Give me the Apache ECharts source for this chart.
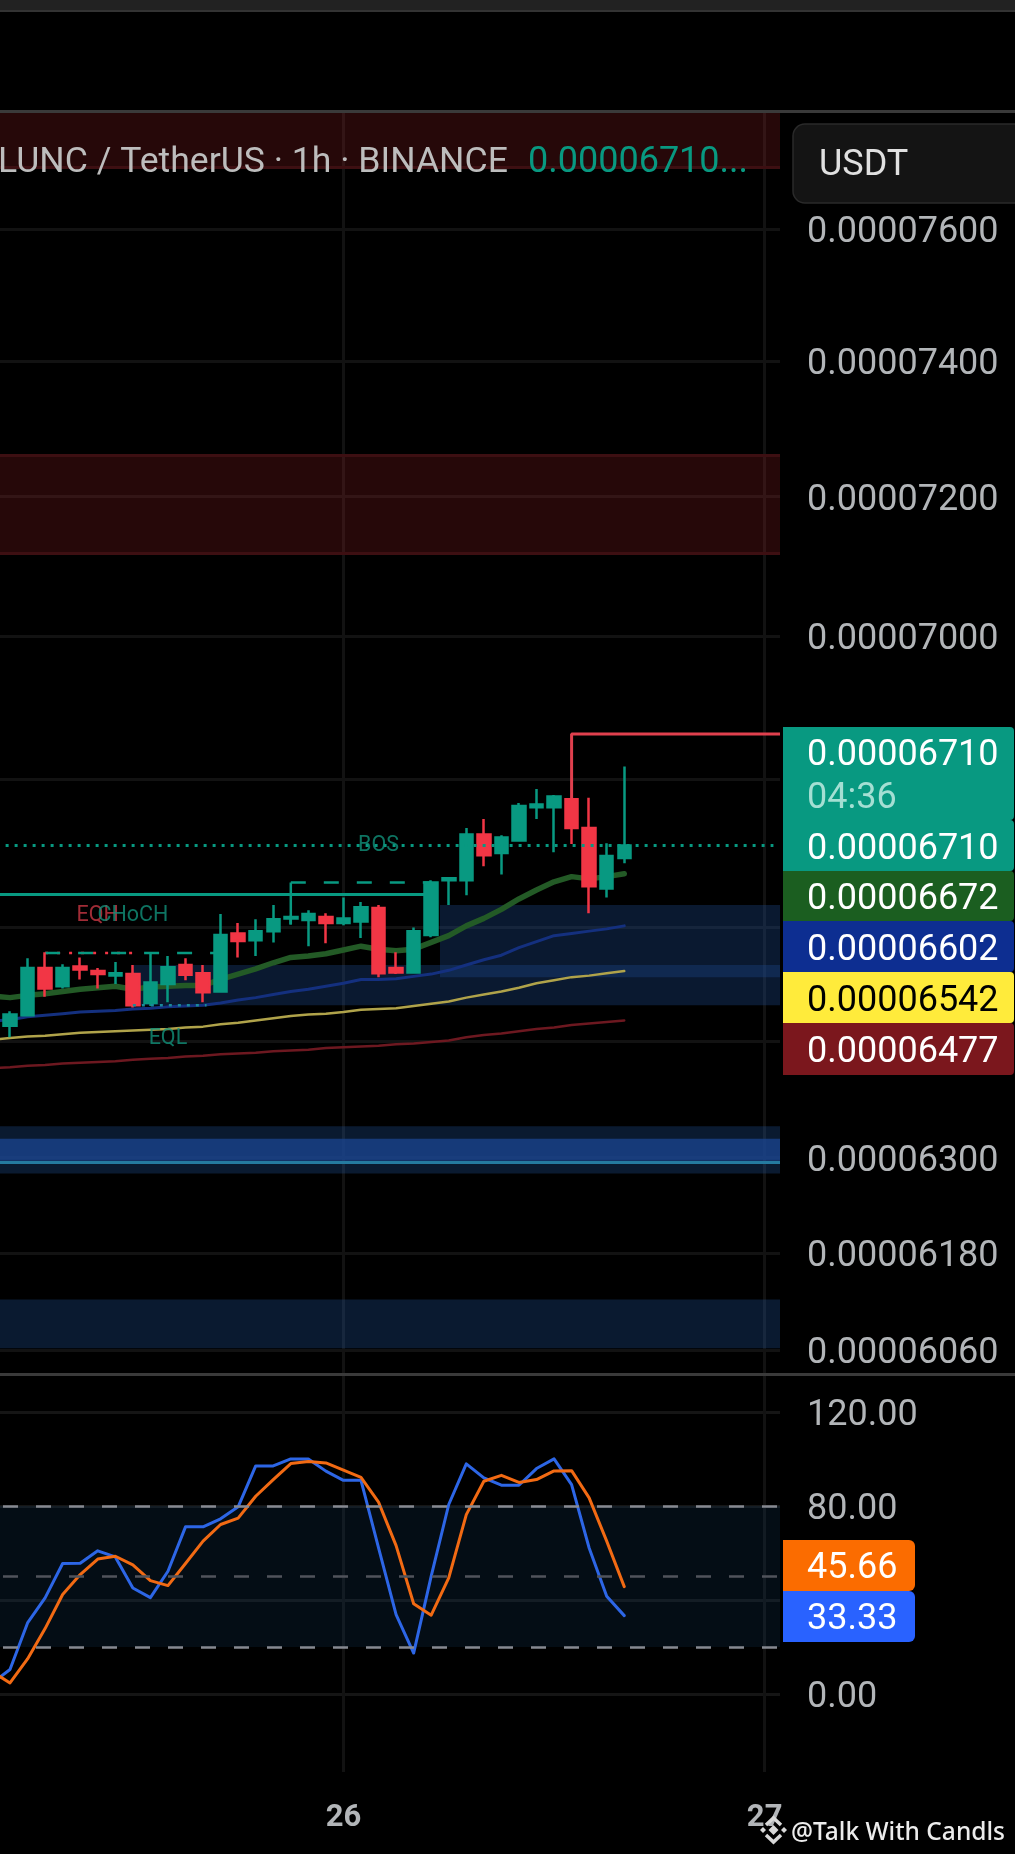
<!DOCTYPE html>
<html>
<head>
<meta charset="utf-8">
<title>LUNC / TetherUS</title>
<script src="https://cdn.jsdelivr.net/npm/echarts@6/dist/echarts.min.js"></script>
<style>
html, body { margin: 0; background: #000; }
#chart { width: 1015px; height: 1854px; }
</style>
</head>
<body>
<div id="chart"></div>
<script>
// prices are in units of 0.00000001 USDT
// candles, x = 0..35
const candleOpen = [6470,6484,6546,6522,6548,6542,6536,6538,6500,6525,6550,6539,6515,6592,6583,6595,6612,6610,6614,6606,6608,6626,6546,6540,6590,6663,6663,6725,6700,6717,6762,6762,6773,6734,6652,6693];
const candleClose = [6485,6546,6519,6546,6544,6538,6539,6497,6527,6547,6537,6514,6590,6582,6595,6611,6614,6618,6606,6612,6627,6539,6540,6595,6660,6666,6725,6697,6721,6764,6766,6777,6734,6655,6696,6710];
const candleLow = [6455,6483,6508,6519,6531,6519,6525,6494,6496,6501,6530,6501,6514,6560,6562,6580,6604,6575,6579,6603,6586,6534,6538,6540,6587,6630,6643,6682,6671,6717,6746,6701,6712,6619,6640,6686];
const candleHigh = [6489,6559,6567,6551,6560,6546,6554,6550,6565,6562,6559,6550,6618,6606,6611,6630,6616,6623,6619,6640,6634,6630,6567,6600,6663,6667,6734,6746,6724,6768,6787,6779,6773,6775,6713,6818];

// moving averages, x = -1..35
const emaGreen = [6509,6507,6510,6512,6515,6518,6520,6522,6518,6521,6522,6523,6523,6531,6538,6545,6553,6560,6562,6565,6570,6575,6571,6569,6571,6580,6589,6602,6612,6624,6638,6650,6661,6668,6665,6668,6672];
const emaBlue = [6476,6478,6482,6484,6486,6488,6489,6490,6492,6493,6495,6496,6497,6500,6504,6507,6511,6515,6518,6522,6526,6531,6531,6532,6535,6538,6543,6550,6557,6563,6573,6581,6589,6592,6595,6598,6602];
const emaYellow = [6452,6454,6456,6457,6459,6461,6462,6463,6464,6465,6466,6468,6469,6472,6474,6477,6480,6483,6485,6486,6488,6491,6492,6493,6496,6499,6502,6507,6511,6515,6520,6526,6530,6534,6536,6539,6542];
const emaRed = [6415,6416,6418,6419,6421,6422,6423,6424,6426,6427,6428,6430,6431,6433,6434,6435,6437,6438,6439,6441,6442,6443,6444,6446,6447,6449,6451,6455,6458,6460,6463,6466,6468,6471,6473,6475,6477];

// stoch rsi, x = -1..35
const stochK = [4.7,10.4,30.2,40.9,55.5,55.6,60.9,58.3,45.1,41.0,52.2,71.1,71.1,74.5,79.6,97.0,97.0,100,100,94.8,90.9,90.9,62.1,33.8,17.4,50.1,80.6,97.9,91.9,88.8,88.8,95.9,100,89.1,62.1,41.6,33.33];
const stochD = [9.4,4.7,14.9,27.8,42.3,50.8,57.4,58.6,54.9,48.2,46.1,55.5,65,72.1,74.8,84.1,91.2,98,98.9,98.3,95.2,92.1,81.6,63.1,38.4,33.5,49.4,76.3,90.5,93,90,91.2,94.9,95,83.4,65,45.66];

const priceTicks = [7600,7400,7200,7000,6300,6180,6060];
const priceGridLines = [7600,7400,7200,7000,6800,6600,6450,6300,6180,6060];
const stochTicks = [120,80,0];
const stochGridLines = [120,80,40,0];
const stochLevels = [80,50,20];
const dayTicks = [19,43];
const dayLabels = ['26','27'];

// supply / demand zones [top, bottom]
const redZones = [[7790,7696],[7261,7118]];
const blueZones = [[6340,6280],[6324,6296],[6122,6062]];
const demandZone = [6550,6497];
const demandZoneStart = 7;
const orderBlock = [6630,6534];
const orderBlockStart = 24.5;
const cyanLevel = 6294;

const lastPrice = 6710;
const chochLevel = 6644;
const eqhLevel = 6566;
const bosLevel = 6660;
const eqlLevel = 6497;
const swingHigh = 6863;

const tagTexts = ['EQH','CHoCH','EQL','BOS'];
const tagX = [5,7,9,21];
const tagY = [6616,6616,6453,6710];

const badgeTexts = ['0.00006710','0.00006710','0.00006672','0.00006602','0.00006542','0.00006477'];
const stochBadgeTexts = ['45.66','33.33'];

const XMIN = -10 / 17.55, XMAX = 770 / 17.55;
const GREEN = '#089981', RED = '#f23645';
const GRID_COLOR = '#121212';
const LABEL_FONT = '36px Roboto';

const chart = echarts.init(document.getElementById('chart'));

function lineFrom(values, color, width, xAxisIndex, z) {
    return {
        type: 'line', xAxisIndex: xAxisIndex, yAxisIndex: xAxisIndex,
        data: values.map((v, i) => [i - 1, v]),
        symbol: 'none', z: z, silent: true,
        lineStyle: { color: color, width: width, cap: 'round', join: 'round' }
    };
}

function structureLine(points, color, width, type, z) {
    return {
        type: 'line', xAxisIndex: 0, yAxisIndex: 0, data: points,
        symbol: 'none', z: z, silent: true,
        lineStyle: { color: color, width: width, type: type }
    };
}

function zoneBand(top, bottom, start, color) {
    return [{ xAxis: start, yAxis: top, itemStyle: { color: color } }, { xAxis: 'max', yAxis: bottom }];
}

const series = [
    // zones, behind everything
    {
        type: 'line', xAxisIndex: 0, yAxisIndex: 0, data: [], z: 1, silent: true,
        markArea: {
            silent: true,
            data: [
                zoneBand(redZones[0][0], redZones[0][1], XMIN, 'rgba(153,32,36,0.25)'),
                zoneBand(redZones[1][0], redZones[1][1], XMIN, 'rgba(153,32,36,0.25)'),
                zoneBand(blueZones[0][0], blueZones[0][1], XMIN, 'rgba(40,104,192,0.25)'),
                zoneBand(blueZones[1][0], blueZones[1][1], XMIN, 'rgba(27,70,145,0.75)'),
                zoneBand(blueZones[2][0], blueZones[2][1], XMIN, 'rgba(40,104,192,0.25)'),
                zoneBand(demandZone[0], demandZone[1], demandZoneStart, 'rgba(30,75,145,0.33)'),
                zoneBand(orderBlock[0], orderBlock[1], orderBlockStart, 'rgba(30,75,145,0.33)')
            ]
        },
        markLine: {
            silent: true, symbol: 'none', label: { show: false },
            lineStyle: { color: '#3d0f12', width: 3, type: 'solid' },
            data: [redZones[0][1], redZones[1][0], redZones[1][1]].map(v => ({ yAxis: v }))
                .concat([{ yAxis: cyanLevel, lineStyle: { color: '#257a9f', width: 3, type: 'solid' } }])
        }
    },
    lineFrom(emaRed, '#6d1820', 2.5, 0, 3),
    lineFrom(emaYellow, '#b0a34a', 2.5, 0, 3),
    lineFrom(emaBlue, '#14307f', 3, 0, 3),
    lineFrom(emaGreen, '#235a26', 5.5, 0, 3),
    structureLine([[XMIN, chochLevel], [24, chochLevel]], GREEN, 3, 'solid', 4),
    structureLine([[2, eqhLevel], [7.4, eqhLevel]], RED, 2.5, [3, 9], 4),
    structureLine([[2, eqhLevel], [12, eqhLevel]], GREEN, 2.5, [15, 18], 4),
    structureLine([[16, candleLow[16]], [16, bosLevel]], GREEN, 2.5, 'solid', 4),
    structureLine([[16, bosLevel], [24, bosLevel]], GREEN, 2.5, [15, 18], 4),
    structureLine([[7, eqlLevel], [11.2, eqlLevel]], '#1a8a9a', 2.5, [3, 6], 6),
    structureLine([[32, candleHigh[32]], [32, swingHigh], [XMAX, swingHigh]], '#e0404e', 3, 'solid', 4),
    {
        type: 'candlestick', xAxisIndex: 0, yAxisIndex: 0, z: 5, silent: true,
        barWidth: 13,
        data: candleOpen.map((o, i) => [i, o, candleClose[i], candleLow[i], candleHigh[i]]),
        itemStyle: { color: GREEN, color0: RED, borderColor: GREEN, borderColor0: RED, borderWidth: 2.5 }
    },
    structureLine([[-0.25, lastPrice], [43.5, lastPrice]], GREEN, 3, [3, 6], 6),
    {
        type: 'scatter', xAxisIndex: 0, yAxisIndex: 0, z: 7, silent: true, symbolSize: 0,
        data: tagTexts.map((t, i) => ({
            name: t, value: [tagX[i], tagY[i]],
            label: { color: t === 'EQH' ? '#c93743' : '#12917a' }
        })),
        label: { show: true, position: 'inside', formatter: '{b}', fontFamily: 'Roboto', fontSize: 21.5 }
    },
    // stoch pane
    {
        type: 'line', xAxisIndex: 1, yAxisIndex: 1, data: [], z: 1, silent: true,
        markArea: {
            silent: true,
            itemStyle: { color: 'rgba(20,60,95,0.22)' },
            data: [[{ yAxis: stochLevels[0] }, { yAxis: stochLevels[2] }]]
        },
        markLine: {
            silent: true, symbol: 'none', label: { show: false },
            lineStyle: { color: '#868991', width: 2.5, type: [15, 18], dashOffset: -3 },
            data: stochLevels.map(v => ({
                yAxis: v,
                lineStyle: v === 50 ? { color: '#50535b', width: 2.5, type: [15, 18], dashOffset: -3 } : undefined
            }))
        }
    },
    lineFrom(stochD, '#f26a13', 3, 1, 4),
    lineFrom(stochK, '#2d66e6', 3, 1, 3)
];

function badge(top, height, color, textColor, text, extra) {
    const items = [
        { type: 'rect', shape: { x: 783, y: top, width: 231, height: height, r: [0, 4, 4, 0] }, style: { fill: color }, z: 20 },
        { type: 'text', x: 807, y: extra ? top + 29 : top + height / 2 + 4, z: 21,
          style: { text: text, fill: textColor, font: LABEL_FONT, textVerticalAlign: 'middle' } }
    ];
    if (extra) {
        items.push({ type: 'text', x: 807, y: top + 72, z: 21,
            style: { text: extra, fill: '#a4dfd3', font: LABEL_FONT, textVerticalAlign: 'middle' } });
    }
    return items;
}

const graphic = [
    // header bars and pane separators
    { type: 'rect', shape: { x: 0, y: 0, width: 1015, height: 10 }, style: { fill: '#222222' }, z: 10 },
    { type: 'rect', shape: { x: 0, y: 10, width: 1015, height: 2 }, style: { fill: '#333333' }, z: 10 },
    { type: 'rect', shape: { x: 0, y: 110, width: 1015, height: 3 }, style: { fill: '#3a3a3a' }, z: 10 },
    { type: 'rect', shape: { x: 0, y: 1373, width: 1015, height: 3 }, style: { fill: '#3a3a3a' }, z: 10 },
    // legend
    { type: 'text', x: -2, y: 163, z: 21, style: { text: 'LUNC / TetherUS · 1h · BINANCE', fill: '#bdbdbd', font: '35.6px Roboto', textVerticalAlign: 'middle' } },
    { type: 'text', x: 528, y: 163, z: 21, style: { text: '0.00006710...', fill: GREEN, font: LABEL_FONT, textVerticalAlign: 'middle' } },
    // symbol box
    { type: 'rect', shape: { x: 793, y: 124, width: 240, height: 79, r: 12 }, style: { fill: '#141414', stroke: '#2a2a2a', lineWidth: 1.5 }, z: 20 },
    { type: 'text', x: 819, y: 166, z: 21, style: { text: 'USDT', fill: '#e0e0e0', font: LABEL_FONT, textVerticalAlign: 'middle' } }
];
const badgeColors = ['#089981', '#089981', '#1b5e20', '#0d2e91', '#ffeb3b', '#7b171d'];
const badgeTops = [727, 820, 871, 921, 972, 1023];
const badgeHeights = [93, 51, 50, 51, 51, 52];
badgeTexts.forEach((t, i) => {
    graphic.push(...badge(badgeTops[i], badgeHeights[i], badgeColors[i], badgeColors[i] === '#ffeb3b' ? '#000000' : '#ffffff', t, i === 0 ? '04:36' : null));
});
// stoch badges
const stochBadgeColors = ['#fb6c00', '#2962ff'];
const stochBadgeTops = [1540, 1591];
stochBadgeTexts.forEach((t, i) => {
    graphic.push({ type: 'rect', shape: { x: 783, y: stochBadgeTops[i], width: 132, height: 51, r: [0, 6, 6, 0] }, style: { fill: stochBadgeColors[i] }, z: 20 });
    graphic.push({ type: 'text', x: 807, y: stochBadgeTops[i] + 29, z: 21, style: { text: t, fill: '#ffffff', font: LABEL_FONT, textVerticalAlign: 'middle' } });
});
// watermark
const markColor = '#d8d8d8';
graphic.push(
    { type: 'polygon', shape: { points: [[773.5, 1825], [778.5, 1830], [773.5, 1835], [768.5, 1830]] }, style: { fill: markColor }, z: 22 },
    { type: 'polygon', shape: { points: [[763, 1827], [766, 1830], [763, 1833], [760, 1830]] }, style: { fill: markColor }, z: 22 },
    { type: 'polygon', shape: { points: [[784, 1827], [787, 1830], [784, 1833], [781, 1830]] }, style: { fill: markColor }, z: 22 },
    { type: 'polyline', shape: { points: [[766, 1825], [773.5, 1818], [781, 1825]] }, style: { stroke: markColor, lineWidth: 3.5, fill: 'none' }, z: 22 },
    { type: 'polyline', shape: { points: [[766, 1835], [773.5, 1842], [781, 1835]] }, style: { stroke: markColor, lineWidth: 3.5, fill: 'none' }, z: 22 },
    { type: 'text', x: 791, y: 1833, z: 22, style: { text: '@Talk With Candls', fill: '#ececec', font: '500 24.5px "Noto Sans"', textVerticalAlign: 'middle' } }
);

const verticalGrid = { show: true, lineStyle: { color: GRID_COLOR, width: 3 } };

chart.setOption({
    animation: false,
    backgroundColor: '#000000',
    grid: [
        { left: 0, top: 113, width: 780, height: 1262 },
        { left: 0, top: 1375, width: 780, height: 397 }
    ],
    xAxis: [
        {
            type: 'value', gridIndex: 0, min: XMIN, max: XMAX,
            axisLine: { show: false },
            axisTick: { show: false, customValues: dayTicks },
            axisLabel: { show: false },
            splitLine: verticalGrid
        },
        {
            type: 'value', gridIndex: 1, min: XMIN, max: XMAX,
            axisLine: { show: false },
            axisTick: { show: false, customValues: dayTicks },
            axisLabel: {
                customValues: dayTicks, margin: 31, hideOverlap: false,
                formatter: v => dayLabels[dayTicks.indexOf(v)],
                color: '#b2b5b8', fontFamily: 'Roboto', fontWeight: 'bold', fontSize: 31
            },
            splitLine: verticalGrid
        }
    ],
    yAxis: [
        {
            type: 'log', gridIndex: 0, position: 'right', min: 6029.4, max: 7780.2,
            axisLine: { show: false },
            axisTick: { show: false, customValues: priceGridLines },
            axisLabel: {
                customValues: priceTicks, margin: 27, hideOverlap: false,
                verticalAlign: 'top', lineHeight: 8,
                formatter: v => (v / 1e8).toFixed(8),
                color: '#b2b5b8', fontFamily: 'Roboto', fontSize: 36
            },
            splitLine: { show: true, lineStyle: { color: GRID_COLOR, width: 3 } }
        },
        {
            type: 'value', gridIndex: 1, position: 'right', min: -33.2, max: 135.7,
            axisLine: { show: false },
            axisTick: { show: false, customValues: stochGridLines },
            axisLabel: {
                customValues: stochTicks, margin: 27, hideOverlap: false,
                verticalAlign: 'top', lineHeight: 8,
                formatter: v => v.toFixed(2),
                color: '#b2b5b8', fontFamily: 'Roboto', fontSize: 36
            },
            splitLine: { show: true, lineStyle: { color: '#151515', width: 3 } }
        }
    ],
    series: series,
    graphic: graphic
});
</script>
</body>
</html>
